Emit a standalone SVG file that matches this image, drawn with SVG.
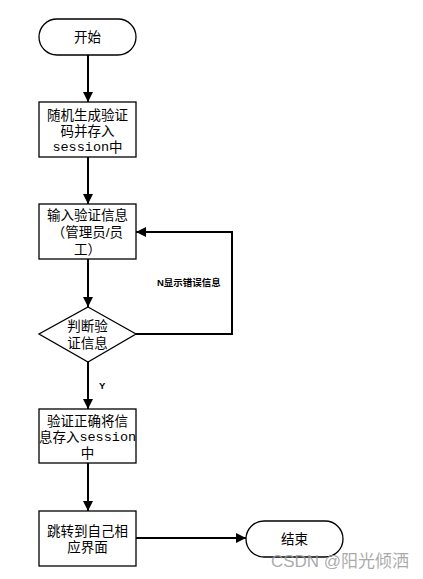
<svg xmlns="http://www.w3.org/2000/svg" width="423" height="579" viewBox="0 0 423 579">
<style>
.n{fill:#fff;stroke:#000;stroke-width:1.3}
.t{font-family:"Liberation Sans","Noto Sans CJK SC",sans-serif;font-size:13.5px;fill:#000;text-anchor:middle;dominant-baseline:central}
.m{font-family:"Liberation Mono","Noto Sans CJK SC",monospace}
.c{fill:none;stroke:#000;stroke-width:2}
.l{font-family:"Liberation Sans","Noto Sans CJK SC",sans-serif;font-size:9.5px;font-weight:bold;fill:#000;dominant-baseline:central}
</style>
<defs>
<marker id="a" viewBox="0 0 10 10" refX="10" refY="5" markerWidth="5" markerHeight="5" orient="auto" markerUnits="strokeWidth">
<path d="M0,0 L10,5 L0,10 z" fill="#000"/>
</marker>
</defs>
<rect width="423" height="579" fill="#fff"/>
<g id="connectors">
<line class="c" x1="88" y1="55" x2="88" y2="102" marker-end="url(#a)"/>
<line class="c" x1="88" y1="157" x2="88" y2="204" marker-end="url(#a)"/>
<line class="c" x1="88" y1="259" x2="88" y2="307" marker-end="url(#a)"/>
<polyline class="c" points="136,334 232,334 232,232 136,232" marker-end="url(#a)"/>
<text class="l" x="157" y="282">N显示错误信息</text>
<line class="c" x1="88" y1="362" x2="88" y2="409" marker-end="url(#a)"/>
<text class="l" x="99" y="385">Y</text>
<line class="c" x1="88" y1="463" x2="88" y2="511" marker-end="url(#a)"/>
<line class="c" x1="136" y1="538" x2="246" y2="538" marker-end="url(#a)"/>
</g>
<g id="start">
<rect class="n" x="39" y="19" width="97" height="36" rx="18"/>
<text class="t" x="87.5" y="37">开始</text>
</g>
<g id="gen">
<rect class="n" x="39" y="102" width="97" height="55"/>
<text class="t" x="87.5" y="115">随机生成验证</text>
<text class="t" x="87.5" y="131">码并存入</text>
<text class="t" x="87.5" y="147"><tspan class="m">session</tspan>中</text>
</g>
<g id="input">
<rect class="n" x="39" y="204" width="97" height="55"/>
<text class="t" x="87.5" y="215">输入验证信息</text>
<text class="t" x="87.5" y="232">（管理员/员</text>
<text class="t" x="87.5" y="249">工）</text>
</g>
<g id="judge">
<polygon class="n" points="88,307 136,334 88,362 39,334"/>
<text class="t" x="87.5" y="326">判断验</text>
<text class="t" x="87.5" y="343">证信息</text>
</g>
<g id="store">
<rect class="n" x="39" y="409" width="97" height="54"/>
<text class="t" x="87.5" y="421">验证正确将信</text>
<text class="t" x="87.5" y="437">息存入<tspan class="m">session</tspan></text>
<text class="t" x="87.5" y="453">中</text>
</g>
<g id="jump">
<rect class="n" x="39" y="511" width="97" height="55"/>
<text class="t" x="87.5" y="531">跳转到自己相</text>
<text class="t" x="87.5" y="547">应界面</text>
</g>
<g id="end">
<rect class="n" x="246" y="521" width="97" height="36" rx="18"/>
<text class="t" x="294.5" y="539">结束</text>
</g>
<text x="340" y="561" font-family="'Liberation Sans','Noto Sans CJK SC',sans-serif" font-size="17" fill="#9a9a9a" fill-opacity="0.85" text-anchor="middle" dominant-baseline="central">CSDN @阳光倾洒</text>
</svg>
